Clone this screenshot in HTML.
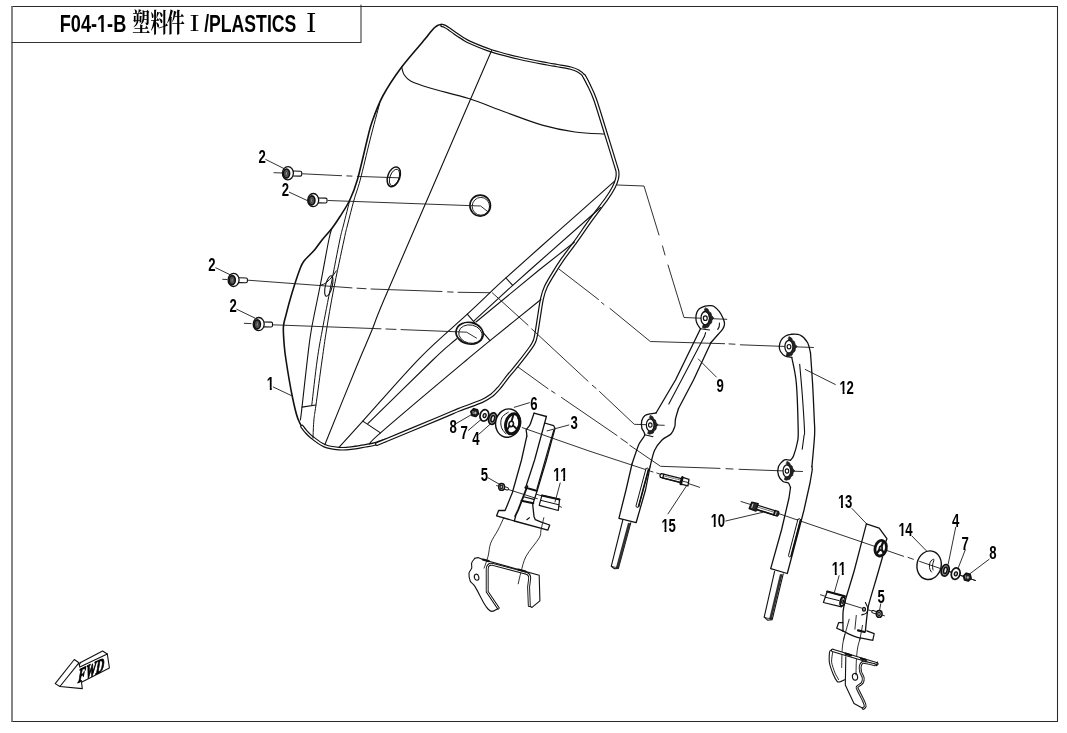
<!DOCTYPE html>
<html><head><meta charset="utf-8"><title>F04-1-B PLASTICS I</title>
<style>
html,body{margin:0;padding:0;background:#fff;}
body{width:1067px;height:733px;overflow:hidden;font-family:"Liberation Sans",sans-serif;}
svg{display:block;position:absolute;left:0;top:0;filter:grayscale(1);}
svg text{font-family:"Liberation Sans",sans-serif;font-weight:bold;fill:#000;stroke:none;}
</style></head><body>
<svg width="1067" height="733" viewBox="0 0 1067 733">
<g stroke="#111" fill="none" stroke-linecap="round" stroke-linejoin="round">
<rect x="0" y="0" width="1067" height="733" fill="#fff" stroke="none"/>
<path d="M11.4 6.5 L1057.5 6.5 L1057.5 721.5 L11.4 721.5" stroke="#2a2a2a" stroke-width="1.05" stroke-linejoin="miter" stroke-linecap="butt"/>
<path d="M12 6 L12 721.7" stroke="#707070" stroke-width="1.7" stroke-linecap="butt"/>
<path d="M12 42.4 L361 42.4 L361 5" stroke="#333" stroke-width="1.05" stroke-linejoin="miter"/>
<clipPath id="c1"><path d="M-3 -22 H16 V-2.5 H6.85 V0.6 H4.2 V-2.5 H-3 Z"/></clipPath>
<clipPath id="c2"><path d="M-3 -28 H20 V-3.2 H8.95 V0.8 H5.55 V-3.2 H-3 Z"/></clipPath>
<text transform="translate(59.8 31.7) scale(0.755 1)" font-size="24" text-anchor="start">F04-</text>
<text transform="translate(97.05 31.7) scale(0.755 1)" font-size="24" text-anchor="start" clip-path="url(#c2)">1</text>
<text transform="translate(107.1 31.7) scale(0.755 1)" font-size="24" text-anchor="start">-B</text>
<text transform="translate(204.2 31.7) scale(0.735 1)" font-size="24" text-anchor="start">/PLASTICS</text>
<text transform="translate(132.3 31.9) scale(0.703 1)" font-size="25.6" text-anchor="start" style="font-family:'Liberation Serif','Noto Serif CJK SC',serif">塑</text>
<text transform="translate(150.6 31.9) scale(0.684 1)" font-size="25.6" text-anchor="start" style="font-family:'Liberation Serif','Noto Serif CJK SC',serif">料</text>
<text transform="translate(166.8 31.9) scale(0.703 1)" font-size="25.6" text-anchor="start" style="font-family:'Liberation Serif','Noto Serif CJK SC',serif">件</text>
<text transform="translate(194.6 31.4) scale(0.976 1)" font-size="20.5" text-anchor="middle" style="font-family:'Liberation Serif','Noto Serif CJK SC',serif">Ⅰ</text>
<text transform="translate(311.3 32.2) scale(0.784 1)" font-size="25.5" text-anchor="middle" style="font-family:'Liberation Serif','Noto Serif CJK SC',serif">Ⅰ</text>
<path d="M443.5 24.8 C443.1 24.8 441.9 24.4 440.9 24.5 C439.9 24.6 438.6 24.9 437.5 25.5 C436.4 26.1 435.4 26.8 434.1 28 C432.9 29.2 431.6 30.8 430 32.7 C428.4 34.6 429.3 33.9 424.6 39.6 C419.9 45.3 408.7 57.6 401.7 67 C394.7 76.4 387.8 86.8 382.8 96 C377.9 105.2 374.6 114.7 372 122 C369.4 129.3 369.6 130.3 367.1 140 C364.7 149.7 360.2 170 357.3 180 C354.4 190 352.7 193.9 349.8 200 C346.9 206.1 343 211.8 340 216.5 C337 221.2 334.8 224.6 331.8 228.5 C328.8 232.4 324.9 236.4 322 240 C319.1 243.6 317.5 246.5 314.5 250 C311.5 253.5 306.5 257.7 304 261 C301.5 264.3 301.6 264.7 299.6 270 C297.6 275.3 294.3 285.5 292 293 C289.7 300.5 287.4 309.3 286 315 C284.6 320.7 283.7 322 283.4 327 C283.1 332 283.8 339.5 284.2 345 C284.6 350.5 284.7 351.5 286 360 C287.3 368.5 290.2 386.2 292.2 396 C294.2 405.8 295.8 412.9 297.8 418.6 C299.8 424.3 301.6 426.7 304 430 C306.4 433.3 309.9 436.1 312.2 438.2 C314.5 440.3 317 441.9 318 442.6" stroke-width="1.6"/>
<path d="M302 426.5 C302.6 427.2 303.9 429.2 305.5 431 C307.1 432.8 308.6 434.8 311.8 437.2 C315 439.6 320 443.8 324.5 445.7 C329 447.6 334.4 448.2 338.8 448.6 C343.2 449 346.5 448.7 351 448.2 C355.5 447.7 361.5 446.5 365.6 445.8 C369.7 445.1 372.2 444.7 375.4 443.8 C378.6 442.9 383.4 441 385 440.4" stroke-width="3.7"/>
<path d="M302 426.5 C302.6 427.2 303.9 429.2 305.5 431 C307.1 432.8 308.6 434.8 311.8 437.2 C315 439.6 320 443.8 324.5 445.7 C329 447.6 334.4 448.2 338.8 448.6 C343.2 449 346.5 448.7 351 448.2 C355.5 447.7 361.5 446.5 365.6 445.8 C369.7 445.1 372.2 444.7 375.4 443.8 C378.6 442.9 383.4 441 385 440.4" stroke-width="1.3" stroke="#fff"/>
<path d="M377 444 C387.5 439.6 426.3 423.5 440 417.8 C453.7 412.1 452.1 412.5 459.1 409.7 C466.1 406.9 476.6 403.5 482 401.1 C487.4 398.7 488.7 397.5 491.6 395.3 C494.5 393.1 496.3 391 499.2 387.7 C502.1 384.4 505.6 379.2 508.8 375.3 C512 371.4 514.6 368.7 518.2 364.1 C521.8 359.5 528 351.5 530.6 347.8 C533.2 344.1 533.1 344 534 342.1 C534.9 340.2 534.9 340.8 535.8 336.4 C536.7 331.9 538.2 321.8 539.2 315.4 C540.2 309 541 303 542.1 298.2 C543.2 293.4 544 290.8 545.9 286.7 C547.8 282.6 550.8 277.8 553.5 273.4 C556.2 268.9 558.3 265.4 562.1 260 C565.9 254.6 571.6 247.3 576.2 240.8 C580.9 234.3 584.9 228.1 590 221 C595.1 213.9 602.9 203.9 606.9 198.3 C610.9 192.7 612 190.7 613.7 187.4 C615.4 184.1 616.5 181 617.1 178.5 C617.7 176 617.7 174.6 617.5 172.4 C617.3 170.2 617.7 172 615.7 165.5 C613.8 159 609.2 144.3 605.8 133.4 C602.4 122.5 598.1 108.1 595.3 100 C592.4 91.9 590.6 88.9 588.7 84.9 C586.8 80.9 584.7 77.3 583.9 75.8" stroke-width="4.0"/>
<path d="M588.7 84.9 C587.9 83.4 585.6 78.1 583.9 75.8 C582.1 73.5 580.4 72.3 578.2 71 C576 69.7 574.1 69 570.6 68.1 C567.1 67.2 561.1 66.3 557.2 65.6 C553.3 64.9 553.6 65.1 547.4 63.9 C541.2 62.7 529.3 60.6 520 58.4 C510.7 56.2 499.7 53.5 491.4 50.8 C483.1 48.1 474.8 44.5 470 42.4 C465.2 40.3 465.4 40 462.8 38.4 C460.2 36.8 456.9 34.6 454.6 33 C452.3 31.4 450.7 30.1 449.1 29 C447.5 27.9 446.2 27 445 26.4 C443.8 25.8 442.5 25.6 442 25.5" stroke-width="3.5"/>
<path d="M377 444 C387.5 439.6 426.3 423.5 440 417.8 C453.7 412.1 452.1 412.5 459.1 409.7 C466.1 406.9 476.6 403.5 482 401.1 C487.4 398.7 488.7 397.5 491.6 395.3 C494.5 393.1 496.3 391 499.2 387.7 C502.1 384.4 505.6 379.2 508.8 375.3 C512 371.4 514.6 368.7 518.2 364.1 C521.8 359.5 528 351.5 530.6 347.8 C533.2 344.1 533.1 344 534 342.1 C534.9 340.2 534.9 340.8 535.8 336.4 C536.7 331.9 538.2 321.8 539.2 315.4 C540.2 309 541 303 542.1 298.2 C543.2 293.4 544 290.8 545.9 286.7 C547.8 282.6 550.8 277.8 553.5 273.4 C556.2 268.9 558.3 265.4 562.1 260 C565.9 254.6 571.6 247.3 576.2 240.8 C580.9 234.3 584.9 228.1 590 221 C595.1 213.9 602.9 203.9 606.9 198.3 C610.9 192.7 612 190.7 613.7 187.4 C615.4 184.1 616.5 181 617.1 178.5 C617.7 176 617.7 174.6 617.5 172.4 C617.3 170.2 617.7 172 615.7 165.5 C613.8 159 609.2 144.3 605.8 133.4 C602.4 122.5 598.1 108.1 595.3 100 C592.4 91.9 590.6 88.9 588.7 84.9 C586.8 80.9 584.7 77.3 583.9 75.8" stroke-width="1.6" stroke="#fff"/>
<path d="M588.7 84.9 C587.9 83.4 585.6 78.1 583.9 75.8 C582.1 73.5 580.4 72.3 578.2 71 C576 69.7 574.1 69 570.6 68.1 C567.1 67.2 561.1 66.3 557.2 65.6 C553.3 64.9 553.6 65.1 547.4 63.9 C541.2 62.7 529.3 60.6 520 58.4 C510.7 56.2 499.7 53.5 491.4 50.8 C483.1 48.1 474.8 44.5 470 42.4 C465.2 40.3 465.4 40 462.8 38.4 C460.2 36.8 456.9 34.6 454.6 33 C452.3 31.4 450.7 30.1 449.1 29 C447.5 27.9 446.2 27 445 26.4 C443.8 25.8 442.5 25.6 442 25.5" stroke-width="1.1" stroke="#fff"/>
<path d="M401.7 67 C402.1 68.2 402.5 72.2 404 74.5 C405.5 76.8 406.3 78.7 410.6 80.9 C414.9 83.2 420.3 85 430 88 C439.7 91 456.3 94.6 468.8 98.6 C481.3 102.6 492.8 107.6 505 112 C517.2 116.4 530.5 121.8 542.2 125.1 C553.9 128.4 564.6 130.5 575 132 C585.4 133.5 599.6 133.7 604.5 134" stroke-width="1.1"/>
<path d="M491.6 50.5 C482.3 72.1 453.6 138.4 435.7 180 C417.8 221.6 394.5 275 383.9 300 C373.3 325 376.4 319.2 372 330 C367.6 340.8 365.2 345.6 357.3 364.7 C349.4 383.8 330.2 431.4 324.8 444.7" stroke-width="1.1"/>
<path d="M331.8 228.5 C331.3 230.4 330.7 230.8 328.8 240 C326.9 249.2 323.5 268.5 320.6 283.5 C317.7 298.5 313.5 317.2 311.3 330 C309.1 342.8 308.9 347.1 307.3 360 C305.8 372.9 303.1 397.1 302 407.1 C300.9 417.1 300.7 417.9 300.4 420" stroke-width="1.1"/>
<path d="M349.8 200 C348.8 204.2 345.2 218.3 343.5 225 C341.8 231.7 341.9 230 339.8 240 C337.7 250 333.9 270 331 285 C328.1 300 324.6 317.5 322.3 330 C320 342.5 318.9 347.5 317.2 360 C315.4 372.5 312.7 397.5 311.8 405" stroke-width="1.0"/>
<path d="M379.5 104 C377.9 110 373.2 127.3 370 140 C366.8 152.7 362.9 170 360.2 180 C357.5 190 356.1 192.5 354 200 C351.9 207.5 349.2 218.3 347.5 225 C345.8 231.7 346.3 229.2 344 240 C341.7 250.8 336.4 275 333.5 290 C330.6 305 328.4 318.3 326.5 330 C324.6 341.7 323.9 347.4 322.1 360 C320.3 372.6 317.3 395.5 315.9 405.5 C314.5 415.5 314.4 414.6 313.9 420 C313.4 425.4 313.1 435 313 438" stroke-width="1.0"/>
<path d="M302 407.1 L315.9 405" stroke-width="1.1"/>
<ellipse cx="328.8" cy="286" rx="3.4" ry="10.5" transform="rotate(14 328.8 286)" stroke-width="1.1" fill="none"/>
<path d="M319.8 285.3 C320.7 285 323.1 284.7 325 283.5 C326.9 282.3 329.1 280.1 331 278 C332.9 275.9 335.4 272 336.3 270.8" stroke-width="1.0"/>
<path d="M614.6 181.2 C605.5 189.3 578.1 213.5 560 229.6 C541.9 245.7 517.6 267.3 505.9 277.8 C494.2 288.3 496.4 286.6 490 292.7 C483.6 298.8 479 303.3 467.3 314.2 C455.6 325.1 437.4 340 420 357.8 C402.6 375.6 376.3 406.2 362.8 421.1 C349.3 436 343.1 442.9 339.2 447.2" stroke-width="1.1"/>
<path d="M600.6 207.5 L529.9 270 L512.7 285.3 L474 320.9" stroke-width="1.1"/>
<path d="M574.3 242.2 L539.1 270 L476 322" stroke-width="1.1"/>
<path d="M456.8 338.7 C455.7 339.6 454.1 340.7 450 344.3 C445.9 347.9 446 347.3 432.3 360.5 C418.6 373.7 378.6 413.1 367.8 423.6" stroke-width="1.1"/>
<path d="M540.9 299.5 C532.4 306.4 502.4 330.5 490 340.6 C477.6 350.7 473.3 354.4 466.6 360 C459.9 365.6 464.4 361.8 450 373.9 C435.6 386 393.9 421.2 380.5 432.9 C367.1 444.6 371.3 442.1 369.5 443.9" stroke-width="1.1"/>
<path d="M505.9 278 L512.7 285.3" stroke-width="1.1"/>
<path d="M467.3 314.2 L490 340.6" stroke-width="1.1"/>
<path d="M362.8 421.1 L380.5 432.9" stroke-width="1.1"/>
<ellipse cx="393.8" cy="176.8" rx="6" ry="10.3" transform="rotate(20 393.8 176.8)" stroke-width="1.5" fill="#fff"/>
<ellipse cx="394.5" cy="177.5" rx="4.5" ry="8.6" transform="rotate(20 394.5 177.5)" stroke-width="0.9" fill="none"/>
<ellipse cx="480.2" cy="205.6" rx="10.3" ry="10.5" transform="rotate(0 480.2 205.6)" stroke-width="1.6" fill="#fff"/>
<ellipse cx="480.9" cy="206.3" rx="8.7" ry="8.9" transform="rotate(0 480.9 206.3)" stroke-width="0.9" fill="none"/>
<ellipse cx="469.6" cy="333.2" rx="13.7" ry="10.8" transform="rotate(12 469.6 333.2)" stroke-width="1.7" fill="#fff"/>
<ellipse cx="470.5" cy="334.1" rx="11.9" ry="9.1" transform="rotate(12 470.5 334.1)" stroke-width="0.9" fill="none"/>
<path d="M274 172.7 L282.5 173" stroke-width="0.9" stroke="#1a1a1a"/>
<path d="M302.5 173.8 L341.6 175.7" stroke-width="0.9" stroke="#1a1a1a"/>
<path d="M346.8 175.9 L352 176.1" stroke-width="0.9" stroke="#1a1a1a"/>
<path d="M357.3 176.4 L398.6 177.8" stroke-width="0.9" stroke="#1a1a1a"/>
<path d="M328 200.5 L480.6 206 L487 211" stroke-width="0.9" stroke="#1a1a1a"/>
<path d="M222.7 279.3 L227 279.5" stroke-width="0.9" stroke="#1a1a1a"/>
<path d="M247.8 280.2 L352 287.9" stroke-width="0.9" stroke="#1a1a1a"/>
<path d="M357 288.2 L366 288.7" stroke-width="0.9" stroke="#1a1a1a"/>
<path d="M371 289 L442 291.5" stroke-width="0.9" stroke="#1a1a1a"/>
<path d="M447.6 291.9 L453.1 292.1" stroke-width="0.9" stroke="#1a1a1a"/>
<path d="M458 292.3 L490 292.7" stroke-width="0.9" stroke="#1a1a1a"/>
<path d="M492.4 292.9 L528 325.2" stroke-width="0.9" stroke="#1a1a1a"/>
<path d="M531.7 328.9 L588 381.2" stroke-width="0.9" stroke="#1a1a1a"/>
<path d="M592.3 385.3 L596 388.3" stroke-width="0.9" stroke="#1a1a1a"/>
<path d="M599.5 391.5 L634.3 424.3 L664.3 425.3" stroke-width="0.9" stroke="#1a1a1a"/>
<path d="M244.3 323.3 L251 323.6" stroke-width="0.9" stroke="#1a1a1a"/>
<path d="M272.5 324.8 L381 328.8" stroke-width="0.9" stroke="#1a1a1a"/>
<path d="M386 329 L396 329.4" stroke-width="0.9" stroke="#1a1a1a"/>
<path d="M401 329.6 L457.2 331.8 L466.6 332.2 L476.5 338.1" stroke-width="0.9" stroke="#1a1a1a"/>
<path d="M617.4 185 L644 186 L659 235" stroke-width="0.9" stroke="#1a1a1a"/>
<path d="M662.5 246 L665 255" stroke-width="0.9" stroke="#1a1a1a"/>
<path d="M668 265 L684 317.5 L726.8 319.3" stroke-width="0.9" stroke="#1a1a1a"/>
<path d="M559.3 269.3 L598.5 299.5" stroke-width="0.9" stroke="#1a1a1a"/>
<path d="M601.5 302.5 L604 304.5" stroke-width="0.9" stroke="#1a1a1a"/>
<path d="M610 308.5 L650.3 341.5 L724.6 343.7" stroke-width="0.9" stroke="#1a1a1a"/>
<path d="M729 343.9 L735 344.2" stroke-width="0.9" stroke="#1a1a1a"/>
<path d="M740.3 344.8 L813.5 347.5" stroke-width="0.9" stroke="#1a1a1a"/>
<path d="M518 367 L548 388.7" stroke-width="0.9" stroke="#1a1a1a"/>
<path d="M551.5 391 L555 393.2" stroke-width="0.9" stroke="#1a1a1a"/>
<path d="M561.5 397.5 L617 435.5" stroke-width="0.9" stroke="#1a1a1a"/>
<path d="M620.8 438.5 L627.5 443" stroke-width="0.9" stroke="#1a1a1a"/>
<path d="M629.8 445.3 L660.5 466.3 L720 468.4" stroke-width="0.9" stroke="#1a1a1a"/>
<path d="M726 468.7 L733 469" stroke-width="0.9" stroke="#1a1a1a"/>
<path d="M739 469.3 L777.8 470.7 L802.5 471.5" stroke-width="0.9" stroke="#1a1a1a"/>
<path d="M495.9 419.8 L501 421.2" stroke-width="0.9" stroke="#1a1a1a"/>
<path d="M522.2 427.6 L590 451.3 L644.8 469.3" stroke-width="0.9" stroke="#1a1a1a"/>
<path d="M650.5 471.2 L653 472" stroke-width="0.9" stroke="#1a1a1a"/>
<path d="M656.8 473 L699.6 487.3" stroke-width="0.9" stroke="#1a1a1a"/>
<path d="M741 501.5 L754 505.6" stroke-width="0.9" stroke="#1a1a1a"/>
<path d="M779.3 513.8 L890 551.6 L903.6 556.3" stroke-width="0.9" stroke="#1a1a1a"/>
<path d="M908 557.4 L913.4 559.3" stroke-width="0.9" stroke="#1a1a1a"/>
<path d="M919.6 561.4 L975.5 580.5" stroke-width="0.9" stroke="#1a1a1a"/>
<g transform="translate(287.9 173.2) rotate(1.5)">
<path d="M5 -2.3 L12.4 -2.3 Q13.8 -2.3 13.8 -1.0 L13.8 1.3 Q13.8 2.6 12.4 2.6 L5 2.6" stroke-width="1.1" fill="#fff"/>
<ellipse cx="0" cy="0" rx="5.5" ry="6.6" stroke-width="1.3" fill="#fff"/>
<ellipse cx="-1.4" cy="0.3" rx="3.1" ry="4.5" stroke-width="1.6" fill="#555"/>
<ellipse cx="-1.4" cy="0.3" rx="1.1" ry="1.9" stroke-width="0.6" fill="#999" stroke="#333"/>
</g>
<g transform="translate(313.2 200.1) rotate(1.5)">
<path d="M5 -2.3 L12.4 -2.3 Q13.8 -2.3 13.8 -1.0 L13.8 1.3 Q13.8 2.6 12.4 2.6 L5 2.6" stroke-width="1.1" fill="#fff"/>
<ellipse cx="0" cy="0" rx="5.5" ry="6.6" stroke-width="1.3" fill="#fff"/>
<ellipse cx="-1.4" cy="0.3" rx="3.1" ry="4.5" stroke-width="1.6" fill="#555"/>
<ellipse cx="-1.4" cy="0.3" rx="1.1" ry="1.9" stroke-width="0.6" fill="#999" stroke="#333"/>
</g>
<g transform="translate(233.6 279.9) rotate(1.5)">
<path d="M5 -2.3 L12.4 -2.3 Q13.8 -2.3 13.8 -1.0 L13.8 1.3 Q13.8 2.6 12.4 2.6 L5 2.6" stroke-width="1.1" fill="#fff"/>
<ellipse cx="0" cy="0" rx="5.5" ry="6.6" stroke-width="1.3" fill="#fff"/>
<ellipse cx="-1.4" cy="0.3" rx="3.1" ry="4.5" stroke-width="1.6" fill="#555"/>
<ellipse cx="-1.4" cy="0.3" rx="1.1" ry="1.9" stroke-width="0.6" fill="#999" stroke="#333"/>
</g>
<g transform="translate(258.7 324.1) rotate(1.5)">
<path d="M5 -2.3 L12.4 -2.3 Q13.8 -2.3 13.8 -1.0 L13.8 1.3 Q13.8 2.6 12.4 2.6 L5 2.6" stroke-width="1.1" fill="#fff"/>
<ellipse cx="0" cy="0" rx="5.5" ry="6.6" stroke-width="1.3" fill="#fff"/>
<ellipse cx="-1.4" cy="0.3" rx="3.1" ry="4.5" stroke-width="1.6" fill="#555"/>
<ellipse cx="-1.4" cy="0.3" rx="1.1" ry="1.9" stroke-width="0.6" fill="#999" stroke="#333"/>
</g>
<text transform="translate(258.4 162.8) scale(0.72 1)" font-size="18.3" text-anchor="start">2</text>
<path d="M265.8 159.5 L283.8 168.5" stroke-width="0.9" stroke="#1a1a1a"/>
<text transform="translate(281.7 195.8) scale(0.72 1)" font-size="18.3" text-anchor="start">2</text>
<path d="M289.3 192.2 L307.8 200.8" stroke-width="0.9" stroke="#1a1a1a"/>
<text transform="translate(208.2 271.1) scale(0.72 1)" font-size="18.3" text-anchor="start">2</text>
<path d="M215.8 267.8 L230.2 274.8" stroke-width="0.9" stroke="#1a1a1a"/>
<text transform="translate(229.6 312.3) scale(0.72 1)" font-size="18.3" text-anchor="start">2</text>
<path d="M236.8 309.3 L254.8 318" stroke-width="0.9" stroke="#1a1a1a"/>
<text transform="translate(266.8 389.9) scale(0.72 1)" font-size="18.3" text-anchor="start" clip-path="url(#c1)">1</text>
<path d="M273.3 387 L292.2 396" stroke-width="0.9" stroke="#1a1a1a"/>
<path d="M478.6 413.7 L475.7 416.6 L471.9 415.5 L470.8 411.5 L473.7 408.6 L477.5 409.7Z" stroke-width="1.5" fill="#222"/>
<ellipse cx="475.3" cy="412.9" rx="0.9" ry="1.2" stroke-width="0.6" fill="#ddd" stroke="#888"/>
<path d="M473 411.4 L473.2 413.6" stroke-width="0.7" stroke="#ccc"/>
<ellipse cx="484.4" cy="415.4" rx="4.3" ry="5.8" transform="rotate(15 484.4 415.4)" stroke-width="1.7" fill="#fff"/>
<ellipse cx="484.6" cy="415.6" rx="1.5" ry="2" transform="rotate(15 484.6 415.6)" stroke-width="1.3" fill="#ccc"/>
<ellipse cx="492.6" cy="418.6" rx="3.9" ry="5.9" transform="rotate(15 492.6 418.6)" stroke-width="1.7" fill="#999"/>
<ellipse cx="492.8" cy="418.7" rx="1.7" ry="3.2" transform="rotate(15 492.8 418.7)" stroke-width="1.5" fill="#eee"/>
<text transform="translate(449.6 433.3) scale(0.72 1)" font-size="18.3" text-anchor="start">8</text>
<path d="M455.9 423.7 L471.7 414.5" stroke-width="0.9" stroke="#1a1a1a"/>
<text transform="translate(460.5 438.5) scale(0.72 1)" font-size="18.3" text-anchor="start">7</text>
<path d="M468.4 430.3 L481.5 419.1" stroke-width="0.9" stroke="#1a1a1a"/>
<text transform="translate(472.3 445.1) scale(0.72 1)" font-size="18.3" text-anchor="start">4</text>
<path d="M478.9 434.2 L490.7 423.7" stroke-width="0.9" stroke="#1a1a1a"/>
<ellipse cx="508" cy="423.1" rx="12.3" ry="14.3" transform="rotate(14 508 423.1)" stroke-width="1.4" fill="#fff"/>
<path d="M508.3 412.3 C507.4 413 503.9 414.7 502.7 416.4 C501.4 418.1 500.9 420.2 500.8 422.3 C500.7 424.4 501.2 427 502.1 428.9 C503 430.8 505.4 433 506 433.8" stroke-width="1.0"/>
<ellipse cx="512.7" cy="423.8" rx="6.9" ry="10.2" transform="rotate(14 512.7 423.8)" stroke-width="3.0" fill="#fff"/>
<ellipse cx="511.2" cy="424" rx="2.2" ry="2.8" transform="rotate(14 511.2 424)" stroke-width="1.5" fill="none"/>
<path d="M511.6 421.2 L513.2 415.2M509.6 425.8 L506.8 430.2M513.2 425.6 L517.2 429.2" stroke-width="1.9"/>
<path d="M517.6 416.5 C517.9 417.6 519.2 420.6 519.2 423 C519.2 425.4 517.7 429.7 517.4 431" stroke-width="1.6"/>
<text transform="translate(530.3 409.7) scale(0.72 1)" font-size="18.3" text-anchor="start">6</text>
<path d="M514.3 407.3 L529.4 402.7" stroke-width="0.9" stroke="#1a1a1a"/>
<path d="M534 413.2 L546.4 416.5" stroke-width="1.3"/>
<path d="M534 413.2 C533.6 414.3 530.8 422.7 530.3 424 C529.8 425.3 529.2 425.9 528.8 426.5 C528.4 427.1 526.4 429.2 526.2 429.8 C526 430.4 526.5 432.4 526.6 433 C526.7 433.6 526.8 435.9 526.8 436.2" stroke-width="1.3"/>
<path d="M526.8 436.2 L521.5 460 L512.3 492.8 L505.1 510.5 L498.6 510.5 L496.6 515.8 L514.3 521 L515.6 516.4" stroke-width="1.3"/>
<path d="M546.4 416.5 L534.6 460 L525.4 488.2" stroke-width="1.3"/>
<path d="M527.4 486.2 L518.2 509.9 L515.2 516.2" stroke-width="1.8"/>
<path d="M544.5 423 L553.7 425.7 L555 428.3 L546.4 460 L537.3 490.2" stroke-width="1.3"/>
<path d="M553.8 430 L545.2 460 L536.9 489" stroke-width="1.1"/>
<path d="M525.4 487.6 L536.6 490.8" stroke-width="2.0"/>
<path d="M523.5 496.7 L534 499.4" stroke-width="1.1"/>
<path d="M521.5 500.7 L533.3 503.3" stroke-width="2.0"/>
<path d="M537.3 490.2 L532.7 504.6 L534 516.4 L535.3 519.7 L541.9 522.3 L549.7 525 L547.8 530.2 L514.3 521" stroke-width="1.3"/>
<path d="M526.8 519.7 L529.4 517.7" stroke-width="1.1"/>
<text transform="translate(570.4 428.7) scale(0.72 1)" font-size="18.3" text-anchor="start">3</text>
<path d="M547.1 430.9 L568.8 425" stroke-width="0.9" stroke="#1a1a1a"/>
<path d="M503.8 517.7 C502.8 519.8 500.2 525.8 498 530 C495.8 534.2 492.3 538.7 490.7 543.1 C489.1 547.5 489.2 552 488.1 556.2 C487 560.4 484.8 566.1 484.1 568.1" stroke-width="0.9" stroke="#1a1a1a"/>
<path d="M543.8 517.7 C543.3 519.8 541.8 526.6 541 530 C540.2 533.4 541.7 533.5 539.2 537.9 C536.7 542.3 529.1 550.5 526.1 556.2 C523.1 561.9 522.3 567.4 521 572 C519.7 576.6 518.7 581.8 518.2 583.8" stroke-width="0.9" stroke="#1a1a1a"/>
<path d="M496.6 485.6 L499 486.3" stroke-width="0.9" stroke="#1a1a1a"/>
<path d="M508.4 489.5 L537.3 498.7" stroke-width="0.9" stroke="#1a1a1a"/>
<path d="M503.8 487.7 L507.2 488.8" stroke-width="3.4" stroke="#111" stroke-linecap="round"/>
<path d="M504.1 487.8 L507.2 488.8" stroke-width="1.5" stroke="#fff" stroke-linecap="round"/>
<ellipse cx="501.6" cy="486.9" rx="2.9" ry="3.4" stroke-width="1.5" fill="#fff"/>
<ellipse cx="501.4" cy="486.9" rx="1.3" ry="1.7" stroke-width="1.3" fill="#bbb" stroke="#222"/>
<text transform="translate(480.7 480.7) scale(0.72 1)" font-size="18.3" text-anchor="start">5</text>
<path d="M488 477.7 L500.5 484.9" stroke-width="0.9" stroke="#1a1a1a"/>
<path d="M536.5 494.2 L541 495.7" stroke-width="0.9" stroke="#1a1a1a"/>
<path d="M558 505.8 L561.5 507.2" stroke-width="0.9" stroke="#1a1a1a"/>
<path d="M541.9 495.4 L559.6 499.4 L558.3 510.5 L539.2 505.3Z" stroke-width="1.2" fill="#fff"/>
<path d="M541.9 495.4 L559.6 499.4" stroke-width="2.0"/>
<path d="M540.6 500.3 L559 504.8" stroke-width="1.0"/>
<text transform="translate(553.2 480.7) scale(0.72 1)" font-size="18.3" text-anchor="start" clip-path="url(#c1)">1</text>
<text transform="translate(560.2 480.7) scale(0.72 1)" font-size="18.3" text-anchor="start" clip-path="url(#c1)">1</text>
<path d="M560.2 483 L555 502" stroke-width="0.9" stroke="#1a1a1a"/>
<path d="M474.9 558.2 C474.4 559 472.2 561.1 471.7 562.8 C471.2 564.4 472.1 566.4 471.7 568.1 C471.2 569.9 469.2 571.1 469 573.3 C468.8 575.5 469.3 579 470.3 581.2 C471.3 583.4 472.6 582.7 474.9 586.4 C477.2 590.1 481.9 599.7 484.1 603.5 C486.3 607.3 486.7 607.7 488 609 C489.3 610.3 490.4 611.4 492 611.4 C493.6 611.4 496.9 609.2 497.9 608.7" stroke-width="1.1"/>
<path d="M474.9 558.2 L478 557.6 L482.8 559.5 L539.2 575.3 L539.9 600.9 L532 607.4 L529.4 606.1" stroke-width="1.1"/>
<path d="M498.2 608 L487.2 591.7 L487.2 569 Q487.4 563.4 492.6 564.4 L525.6 573 Q530.4 574.4 529.6 579 L528.6 587 L529.3 605.6" stroke-width="2.9"/>
<path d="M498.2 608 L487.2 591.7 L487.2 569 Q487.4 563.4 492.6 564.4 L525.6 573 Q530.4 574.4 529.6 579 L528.6 587 L529.3 605.6" stroke-width="1.0" stroke="#fff"/>
<ellipse cx="476.6" cy="577.2" rx="2.2" ry="3.1" transform="rotate(-15 476.6 577.2)" stroke-width="1.1" fill="none"/>
<path d="M482.8 559.5 L488.7 561.1" stroke-width="2.2"/>
<path d="M518.2 569.5 L525.5 571.5" stroke-width="2.2"/>
<path d="M700.5 328.8 C699.9 327.9 697.8 325.3 697 323.5 C696.2 321.7 695.9 319.7 695.9 317.9 C695.9 316.1 696.2 314 696.8 312.5 C697.4 311 697.9 309.9 699.3 308.8 C700.7 307.8 703.3 306.7 705 306.2 C706.7 305.7 708.1 305.6 709.6 305.6 C711.1 305.6 712.1 305.2 713.7 306.2 C715.3 307.2 717.8 309.5 719.4 311.6 C721 313.7 722.5 316.9 723.4 319 C724.2 321.1 724.6 322.6 724.5 324.2 C724.4 325.8 724.1 326.8 722.8 328.8 C721.5 330.8 718.5 334 716.5 336.3 C714.5 338.6 711.9 341.5 711 342.5" stroke-width="1.3"/>
<path d="M711 342.5 L693.5 380 L678.5 408.5" stroke-width="1.3"/>
<path d="M678.5 408.5 C678 410.2 676.1 416 675.5 419 C674.9 422 675.5 424 674.8 426.5 C674 429 673.1 431.8 671 434 C668.9 436.2 664.8 437.2 662 440 C659.2 442.8 656.5 446 654.5 450.5 C652.5 455 650.8 464.2 650 467" stroke-width="1.3"/>
<path d="M650 467 L645.5 490 L636.1 522.7 L618.9 518.3 L626 490 L632 464" stroke-width="1.3"/>
<path d="M632 464 C632.9 461.4 637.1 448.4 638.8 444.5 C640.5 440.6 644.4 437 644.8 434.8 C645.2 432.6 642.2 429.9 641.8 428 C641.4 426.1 641.4 422.2 641.8 420.5 C642.2 418.8 643.9 416.4 645 415.5 C646.1 414.6 648.5 414.1 650 413.8 C651.5 413.5 655.2 413.1 656 413" stroke-width="1.3"/>
<path d="M656 413 L675.5 380 L700.5 328.8" stroke-width="1.3"/>
<path d="M700.5 328.8 L709.6 330" stroke-width="1.1"/>
<path d="M705.6 332.6 L704.5 336.3 L681.5 380 L668.8 404" stroke-width="1.1"/>
<path d="M719.4 323.1 C719.4 323.7 719.5 325.4 719.2 326.5 C718.9 327.6 718 328.9 717.7 329.4" stroke-width="1.1"/>
<path d="M644.8 434.8 L653 436.7" stroke-width="1.1"/>
<g transform="translate(705.3 318.2) scale(1.2)">
<ellipse cx="0" cy="0" rx="3.6" ry="5.6" stroke-width="1.1" fill="#fff"/>
<path d="M0.2 -8.6 L2.2 -7.6 L3.3 -5.2 L4.6 -4.6 L5.4 -2 L7 -0.2 L5.6 1.6 L5.2 4 L3.6 5.2 L2.6 7.4 L-0.6 8.4 L-2.4 7.8 L-1.8 5.6 L0.8 5.2 L2.6 3.4 L3.4 0 L2.6 -3.4 L0.6 -5.4 L-0.6 -6.4 Z" fill="#222" stroke-width="0.6"/>
<ellipse cx="0" cy="0" rx="1.6" ry="1.9" stroke-width="1.0" fill="#fff"/>
</g>
<g transform="translate(650.3 425) scale(1.1)">
<ellipse cx="0" cy="0" rx="3.6" ry="5.6" stroke-width="1.1" fill="#fff"/>
<path d="M0.2 -8.6 L2.2 -7.6 L3.3 -5.2 L4.6 -4.6 L5.4 -2 L7 -0.2 L5.6 1.6 L5.2 4 L3.6 5.2 L2.6 7.4 L-0.6 8.4 L-2.4 7.8 L-1.8 5.6 L0.8 5.2 L2.6 3.4 L3.4 0 L2.6 -3.4 L0.6 -5.4 L-0.6 -6.4 Z" fill="#222" stroke-width="0.6"/>
<ellipse cx="0" cy="0" rx="1.6" ry="1.9" stroke-width="1.0" fill="#fff"/>
</g>
<path d="M645.9 468.9 L636 505.9 A1.35 1.35 0 0 0 638.6 506.5 L648.5 469.5 A1.35 1.35 0 0 0 645.9 468.9 Z" stroke-width="1.0" fill="#fff"/>
<path d="M648.5 469.5 L638.6 506.5" stroke-width="1.6"/>
<path d="M622.8 520 L611.3 566.2 L614.5 568.8 L618.4 568.4 L630.8 522.7" stroke-width="1.1" fill="#fff"/>
<path d="M629 524.2 L617.3 567.6" stroke-width="2.6" stroke="#333"/>
<path d="M611.3 566.2 L615 567.3 L618.4 567.2" stroke-width="0.8"/>
<text transform="translate(716.4 392.3) scale(0.72 1)" font-size="18.3" text-anchor="start">9</text>
<path d="M698.3 359 L716.3 377" stroke-width="0.9" stroke="#1a1a1a"/>
<g transform="translate(659.8 475.2) rotate(14.13)">
<path d="M1.2 -2 L21.9 -2 L21.9 2 L1.2 2 Q-0.8 0 1.2 -2 Z" stroke-width="1.2" fill="#fff"/>
<path d="M3.6 -2 L3.6 2" stroke-width="1.3"/>
<path d="M5 -0.3 L20.9 -0.3" stroke-width="0.7" stroke="#444" stroke-dasharray="2.5 1"/>
<path d="M4 2 L21.9 2" stroke-width="1.5"/>
<path d="M21.9 -3.5 L29.3 -3.1 L29.9 3.5 L21.9 3.5 Z" stroke-width="1.3" fill="#fff"/>
<path d="M22.6 -3.5 L22.6 3.5" stroke-width="2.4"/>
<path d="M23.9 0.2 L29.4 0.2" stroke-width="0.8"/>
</g>
<text transform="translate(661.5 531.7) scale(0.72 1)" font-size="18.3" text-anchor="start" clip-path="url(#c1)">1</text>
<text transform="translate(668.5 531.7) scale(0.72 1)" font-size="18.3" text-anchor="start">5</text>
<path d="M668 513.9 L686.7 485.5" stroke-width="0.9" stroke="#1a1a1a"/>
<g transform="translate(750.2 505.2) rotate(17.35)">
<path d="M6.2 -2.2 L25.7 -2.2 L25.7 2.2 L6.2 2.2 Z" stroke-width="1.2" fill="#fff"/>
<path d="M8.2 -0.4 L24.7 -0.4" stroke-width="0.7" stroke="#444"/>
<path d="M7.2 2.2 L25.7 2.2" stroke-width="1.7"/>
<path d="M25.2 -2.4 L29 -2.4 Q31 0 29 2.4 L25.2 2.4 Z" stroke-width="1.2" fill="#2a2a2a"/>
<path d="M26.9 -1.7 L26.9 1.7" stroke-width="1.0" stroke="#ccc" stroke-linecap="butt"/>
<path d="M0.6 -3.3 L7.2 -3.9 L7.2 3.9 L0 3.5 Z" stroke-width="1.4" fill="#2a2a2a"/>
<path d="M2.2 -2.3 L2.2 2.1" stroke-width="0.9" stroke="#ddd" stroke-linecap="butt"/>
</g>
<text transform="translate(710.7 527.3) scale(0.72 1)" font-size="18.3" text-anchor="start" clip-path="url(#c1)">1</text>
<text transform="translate(717.7 527.3) scale(0.72 1)" font-size="18.3" text-anchor="start">0</text>
<path d="M725.7 521 L762.8 512.3" stroke-width="0.9" stroke="#1a1a1a"/>
<path d="M791.8 357.5 C790.7 357.2 786.9 357 785 356 C783.1 355 781.5 353.1 780.5 351.5 C779.5 349.9 779.2 348.1 779.3 346.3 C779.4 344.5 780 342.2 781 340.5 C782 338.8 783.8 337 785.5 336 C787.2 335 788.6 334.5 791 334.3 C793.4 334.1 797.2 333.6 800 335 C802.8 336.4 805.8 339.5 807.5 342.5 C809.2 345.5 810 351.2 810.5 353" stroke-width="1.3"/>
<path d="M810.5 353 C810.9 358.8 812.2 376.3 812.8 387.5 C813.4 398.7 814 412.1 814.3 420 C814.6 427.9 815 427.2 814.6 435 C814.2 442.8 812.4 461.2 811.9 466.5" stroke-width="1.3"/>
<path d="M811.9 466.5 L812.3 469.5 L810 483 L804 510 L798.8 530 L787.3 573.5 L770.7 568.7 L781.5 530 L789 498 L790.5 487.5" stroke-width="1.3"/>
<path d="M790.5 487.5 C790.2 486.9 789.3 483.8 788.3 483 C787.3 482.2 784.3 482.5 783 481.5 C781.7 480.5 779.1 477.5 778.5 475.5 C777.9 473.5 777.7 468.6 778.5 466.5 C779.3 464.4 782.9 460.6 784.5 459.8 C786.1 459 789.7 460.1 790.5 460.2" stroke-width="1.3"/>
<path d="M790.5 460.2 C791 459.5 792.4 458.9 793.5 456 C794.6 453.1 796.5 446.8 797.3 442.5 C798.1 438.2 798.4 439.9 798.2 430 C798 420.1 797.4 395.1 796.3 383 C795.2 370.9 792.5 361.8 791.8 357.5" stroke-width="1.3"/>
<path d="M799.7 364.3 C800.1 369.4 801.5 384.1 802.3 395 C803.1 405.9 804.2 423.2 804.5 430 C804.8 436.8 804.4 432.8 804 436 C803.6 439.2 802.5 447.1 802.2 449.3" stroke-width="1.1"/>
<g transform="translate(789 346.7) scale(1.15)">
<ellipse cx="0" cy="0" rx="3.6" ry="5.6" stroke-width="1.1" fill="#fff"/>
<path d="M0.2 -8.6 L2.2 -7.6 L3.3 -5.2 L4.6 -4.6 L5.4 -2 L7 -0.2 L5.6 1.6 L5.2 4 L3.6 5.2 L2.6 7.4 L-0.6 8.4 L-2.4 7.8 L-1.8 5.6 L0.8 5.2 L2.6 3.4 L3.4 0 L2.6 -3.4 L0.6 -5.4 L-0.6 -6.4 Z" fill="#222" stroke-width="0.6"/>
<ellipse cx="0" cy="0" rx="1.6" ry="1.9" stroke-width="1.0" fill="#fff"/>
</g>
<g transform="translate(787 471) scale(1.1)">
<ellipse cx="0" cy="0" rx="3.6" ry="5.6" stroke-width="1.1" fill="#fff"/>
<path d="M0.2 -8.6 L2.2 -7.6 L3.3 -5.2 L4.6 -4.6 L5.4 -2 L7 -0.2 L5.6 1.6 L5.2 4 L3.6 5.2 L2.6 7.4 L-0.6 8.4 L-2.4 7.8 L-1.8 5.6 L0.8 5.2 L2.6 3.4 L3.4 0 L2.6 -3.4 L0.6 -5.4 L-0.6 -6.4 Z" fill="#222" stroke-width="0.6"/>
<ellipse cx="0" cy="0" rx="1.6" ry="1.9" stroke-width="1.0" fill="#fff"/>
</g>
<path d="M797.9 519.5 L788.5 555.5 A1.35 1.35 0 0 0 791.1 556.1 L800.5 520.1 A1.35 1.35 0 0 0 797.9 519.5 Z" stroke-width="1.0" fill="#fff"/>
<path d="M800.5 520.1 L791.1 556.1" stroke-width="1.6"/>
<path d="M774.6 571.4 L764.2 617.2 L767.6 620.2 L772.2 619.6 L783.2 573.8" stroke-width="1.1" fill="#fff"/>
<path d="M781 575.2 L770.6 618.6" stroke-width="2.6" stroke="#333"/>
<path d="M764.2 617.2 L768 618.4 L772.2 618.4" stroke-width="0.8"/>
<text transform="translate(839.6 393.8) scale(0.72 1)" font-size="18.3" text-anchor="start" clip-path="url(#c1)">1</text>
<text transform="translate(846.6 393.8) scale(0.72 1)" font-size="18.3" text-anchor="start">2</text>
<path d="M805.3 369.5 L835.3 384.5" stroke-width="0.9" stroke="#1a1a1a"/>
<path d="M866.4 523.8 L879.2 528.1 L886.9 538.7 L885.9 541.5" stroke-width="1.3"/>
<path d="M866.4 523.8 C865.4 527.6 856.1 563.8 854.4 570 C852.7 576.2 846.8 595.1 845.8 598.7 C844.8 602.3 843.2 610.3 843 613 C842.8 615.7 843 629.6 843 631.1" stroke-width="1.3"/>
<path d="M882.6 556.8 C882 558.7 877.1 575.9 875.9 580 C874.7 584.1 869.2 602 868.3 606.3 C867.4 610.6 865.6 629 865.4 631.1" stroke-width="1.3"/>
<text transform="translate(838 508.1) scale(0.72 1)" font-size="18.3" text-anchor="start" clip-path="url(#c1)">1</text>
<text transform="translate(844.9 508.1) scale(0.72 1)" font-size="18.3" text-anchor="start">3</text>
<path d="M852 508.5 L866.3 523.5" stroke-width="0.9" stroke="#1a1a1a"/>
<ellipse cx="880.7" cy="548.2" rx="5.6" ry="7.9" transform="rotate(14 880.7 548.2)" stroke-width="2.8" fill="#fff"/>
<path d="M880.7 548.2 L883.2 542M880.7 548.2 L876.8 553.2M880.7 548.2 L884.2 553.6" stroke-width="2.3"/>
<ellipse cx="880.7" cy="548.2" rx="1.5" ry="1.9" transform="rotate(14 880.7 548.2)" stroke-width="1.4" fill="#999"/>
<path d="M842.8 622.7 L838.6 622.7 L836.7 628.2 L842.8 630.9" stroke-width="1.2"/>
<path d="M842.8 630.9 C845 631.9 850.9 635.3 855.9 636.9 C860.9 638.5 870 639.7 872.8 640.2" stroke-width="1.2"/>
<path d="M872.8 640.2 L874.2 633.6 L866.8 630.9" stroke-width="1.2"/>
<path d="M858 630.4 L864.6 632" stroke-width="2.2"/>
<path d="M849.2 619.2 L843.4 640" stroke-width="0.9" stroke="#1a1a1a"/>
<path d="M856.3 615.4 L854.9 629.2" stroke-width="0.9" stroke="#1a1a1a"/>
<path d="M862.5 625.4 L859.8 640" stroke-width="0.9" stroke="#1a1a1a"/>
<ellipse cx="864" cy="609.2" rx="1.5" ry="1.9" transform="rotate(0 864 609.2)" stroke-width="1.3" fill="#aaa"/>
<path d="M865.4 602.5 C865.8 603.5 867.6 606.5 867.8 608.2 C868 610 867.4 611.9 866.4 613 C865.4 614.1 862.4 614.6 861.6 614.9" stroke-width="1.1"/>
<path d="M820.5 594.8 L824.5 596" stroke-width="0.9" stroke="#1a1a1a"/>
<path d="M845.3 603 L862 608.2" stroke-width="0.9" stroke="#1a1a1a"/>
<path d="M827.2 591.5 L844.9 596.3 L841.5 606.8 L823.4 602.5Z" stroke-width="1.2" fill="#fff"/>
<path d="M827.2 591.5 L844.9 596.3" stroke-width="2.0"/>
<path d="M825.3 597.2 L839 600.6" stroke-width="1.0"/>
<ellipse cx="842.6" cy="601.6" rx="2.3" ry="4.4" transform="rotate(14 842.6 601.6)" stroke-width="1.8" fill="#fff"/>
<ellipse cx="842.6" cy="601.6" rx="0.9" ry="1.9" transform="rotate(14 842.6 601.6)" stroke-width="1.2" fill="#888"/>
<text transform="translate(831.8 574.6) scale(0.72 1)" font-size="18.3" text-anchor="start" clip-path="url(#c1)">1</text>
<text transform="translate(838.8 574.6) scale(0.72 1)" font-size="18.3" text-anchor="start" clip-path="url(#c1)">1</text>
<path d="M839.1 575.7 L834.4 592.4" stroke-width="0.9" stroke="#1a1a1a"/>
<path d="M868.7 610 L872 611.1" stroke-width="0.9" stroke="#1a1a1a"/>
<path d="M882 615 L884.5 615.8" stroke-width="0.9" stroke="#1a1a1a"/>
<path d="M876.7 613 L873 611.7" stroke-width="3.4" stroke="#111" stroke-linecap="round"/>
<path d="M876.4 612.9 L873 611.7" stroke-width="1.5" stroke="#fff" stroke-linecap="round"/>
<ellipse cx="879.2" cy="613.9" rx="2.9" ry="3.4" stroke-width="1.5" fill="#fff"/>
<ellipse cx="879" cy="613.9" rx="1.3" ry="1.7" stroke-width="1.3" fill="#bbb" stroke="#222"/>
<text transform="translate(877.5 602.6) scale(0.72 1)" font-size="18.3" text-anchor="start">5</text>
<path d="M880.7 603.9 L879.5 610.6" stroke-width="0.9" stroke="#1a1a1a"/>
<path d="M844.9 634.2 C844.5 636 843.1 641.4 842.6 645 C842.1 648.6 842 652.2 841.9 656 C841.8 659.8 841.7 665.6 841.7 667.5" stroke-width="0.9" stroke="#1a1a1a"/>
<path d="M860.2 638 C859.8 639.7 858.2 644.3 857.6 648 C857 651.7 856.7 655.5 856.4 660 C856.1 664.5 856.1 672.3 856 674.8" stroke-width="0.9" stroke="#1a1a1a"/>
<path d="M833 649.2 C832.7 649.4 830.7 650 830.3 650.5 C829.9 651 829.5 651.9 829.4 653.3 C829.3 654.7 829 660.1 829.4 662.5 C829.8 664.9 832.1 671.5 833 673.7 C833.9 675.9 836.3 680.4 837.1 681.4 C837.9 682.4 838.7 682.1 839.7 681.9 C840.7 681.7 844.6 679.7 845.3 679.4" stroke-width="1.1"/>
<path d="M832.6 652.5 C832.5 653.6 831.3 659.8 831.6 662.2 C831.9 664.6 834.2 671 835 673 C835.8 675 838.2 678.8 838.6 679.6" stroke-width="0.9"/>
<path d="M832.5 650.4 L877 663.8" stroke-width="3.2"/>
<path d="M832.5 650.4 L877 663.8" stroke-width="1.2" stroke="#fff"/>
<path d="M877.5 662 L876.5 665.6" stroke-width="1.1"/>
<path d="M845.8 656.9 L845.3 685 L854 703.4 L863.2 708.5" stroke-width="1.1"/>
<path d="M875 664.8 C873.6 664.5 864.9 662.3 863.2 662.4 C861.5 662.5 860.6 664.9 860.3 666 C860 667.1 860.3 670.3 860.6 671.7 C860.9 673.1 863 676.5 863.2 677.8 C863.4 679.1 862.9 681.9 862.2 683 C861.5 684.1 857.5 686.1 857.1 687 C856.7 687.9 857.8 689.4 858.6 691.1 C859.4 692.8 862.9 699.6 863.7 701.4 C864.5 703.2 865.3 705.7 865.2 706.5 C865.1 707.3 863.4 708.3 863.2 708.5" stroke-width="2.8"/>
<path d="M875 664.8 C873.6 664.5 864.9 662.3 863.2 662.4 C861.5 662.5 860.6 664.9 860.3 666 C860 667.1 860.3 670.3 860.6 671.7 C860.9 673.1 863 676.5 863.2 677.8 C863.4 679.1 862.9 681.9 862.2 683 C861.5 684.1 857.5 686.1 857.1 687 C856.7 687.9 857.8 689.4 858.6 691.1 C859.4 692.8 862.9 699.6 863.7 701.4 C864.5 703.2 865.3 705.7 865.2 706.5 C865.1 707.3 863.4 708.3 863.2 708.5" stroke-width="0.9" stroke="#fff"/>
<ellipse cx="855" cy="676.8" rx="2.6" ry="3.4" transform="rotate(-10 855 676.8)" stroke-width="1.1" fill="none"/>
<path d="M845.5 653.6 L851 655.4" stroke-width="2.2"/>
<path d="M861 658.5 L866 660" stroke-width="2.2"/>
<ellipse cx="929.1" cy="565.2" rx="12.1" ry="14.4" transform="rotate(12 929.1 565.2)" stroke-width="1.4" fill="#fff"/>
<path d="M933.5 559.3 C933.1 559.5 931.7 559.8 931 560.8 C930.3 561.8 929.6 563.5 929.4 565 C929.2 566.5 929.6 568.3 930 569.5 C930.4 570.7 931.2 571.6 931.5 572" stroke-width="1.0"/>
<path d="M934 560 C933.8 560.8 932.8 563.3 932.6 565 C932.4 566.7 932.9 569.2 933 570" stroke-width="1.0"/>
<path d="M919.6 561.4 L975.5 580.5" stroke-width="0.9" stroke="#1a1a1a"/>
<text transform="translate(898.4 536.3) scale(0.72 1)" font-size="18.3" text-anchor="start" clip-path="url(#c1)">1</text>
<text transform="translate(905.3 536.3) scale(0.72 1)" font-size="18.3" text-anchor="start">4</text>
<path d="M912.1 536.2 L926.4 550.8" stroke-width="0.9" stroke="#1a1a1a"/>
<ellipse cx="945.2" cy="570.3" rx="3.9" ry="5.9" transform="rotate(15 945.2 570.3)" stroke-width="1.7" fill="#999"/>
<ellipse cx="945.4" cy="570.4" rx="1.7" ry="3.2" transform="rotate(15 945.4 570.4)" stroke-width="1.5" fill="#eee"/>
<ellipse cx="955.7" cy="573.7" rx="4.3" ry="5.8" transform="rotate(15 955.7 573.7)" stroke-width="1.7" fill="#fff"/>
<ellipse cx="955.9" cy="573.9" rx="1.5" ry="2" transform="rotate(15 955.9 573.9)" stroke-width="1.3" fill="#ccc"/>
<path d="M971.2 578.2 L968.3 581.1 L964.5 580 L963.4 576 L966.3 573.1 L970.1 574.2Z" stroke-width="1.5" fill="#222"/>
<ellipse cx="967.9" cy="577.4" rx="0.9" ry="1.2" stroke-width="0.6" fill="#ddd" stroke="#888"/>
<path d="M965.6 575.9 L965.8 578.1" stroke-width="0.7" stroke="#ccc"/>
<text transform="translate(952 526.8) scale(0.72 1)" font-size="18.3" text-anchor="start">4</text>
<path d="M955.7 527.3 L948.2 564.1" stroke-width="0.9" stroke="#1a1a1a"/>
<text transform="translate(961.6 550) scale(0.72 1)" font-size="18.3" text-anchor="start">7</text>
<path d="M965.3 549.8 L958.4 567.5" stroke-width="0.9" stroke="#1a1a1a"/>
<text transform="translate(989.3 558.8) scale(0.72 1)" font-size="18.3" text-anchor="start">8</text>
<path d="M989.1 559.3 L970 573.7" stroke-width="0.9" stroke="#1a1a1a"/>
<path d="M59.9 686.5 L78.9 662.8 L79.8 667.1 L107.3 654 L109.4 667.9 L81.5 682.3 L82.3 688.6Z" stroke-width="1.1"/>
<path d="M59.9 686.5 L55.2 683.6 L74.3 659.5 L78.9 662.8" stroke-width="1.1"/>
<path d="M80.6 662.4 L102.6 651 L107.3 654" stroke-width="1.1"/>
<path d="M79.3 664.8 L80.6 662.4" stroke-width="1.1"/>
<text transform="matrix(0.57 -0.272 -0.07 1 77.8 682.9)" font-family="Liberation Serif" font-style="italic" font-size="20" text-anchor="start" style="font-family:'Liberation Serif',serif;font-style:italic;font-weight:bold;stroke:#000;stroke-width:1.1px;stroke-linejoin:round">FWD</text>
</g>
</svg>
</body></html>
